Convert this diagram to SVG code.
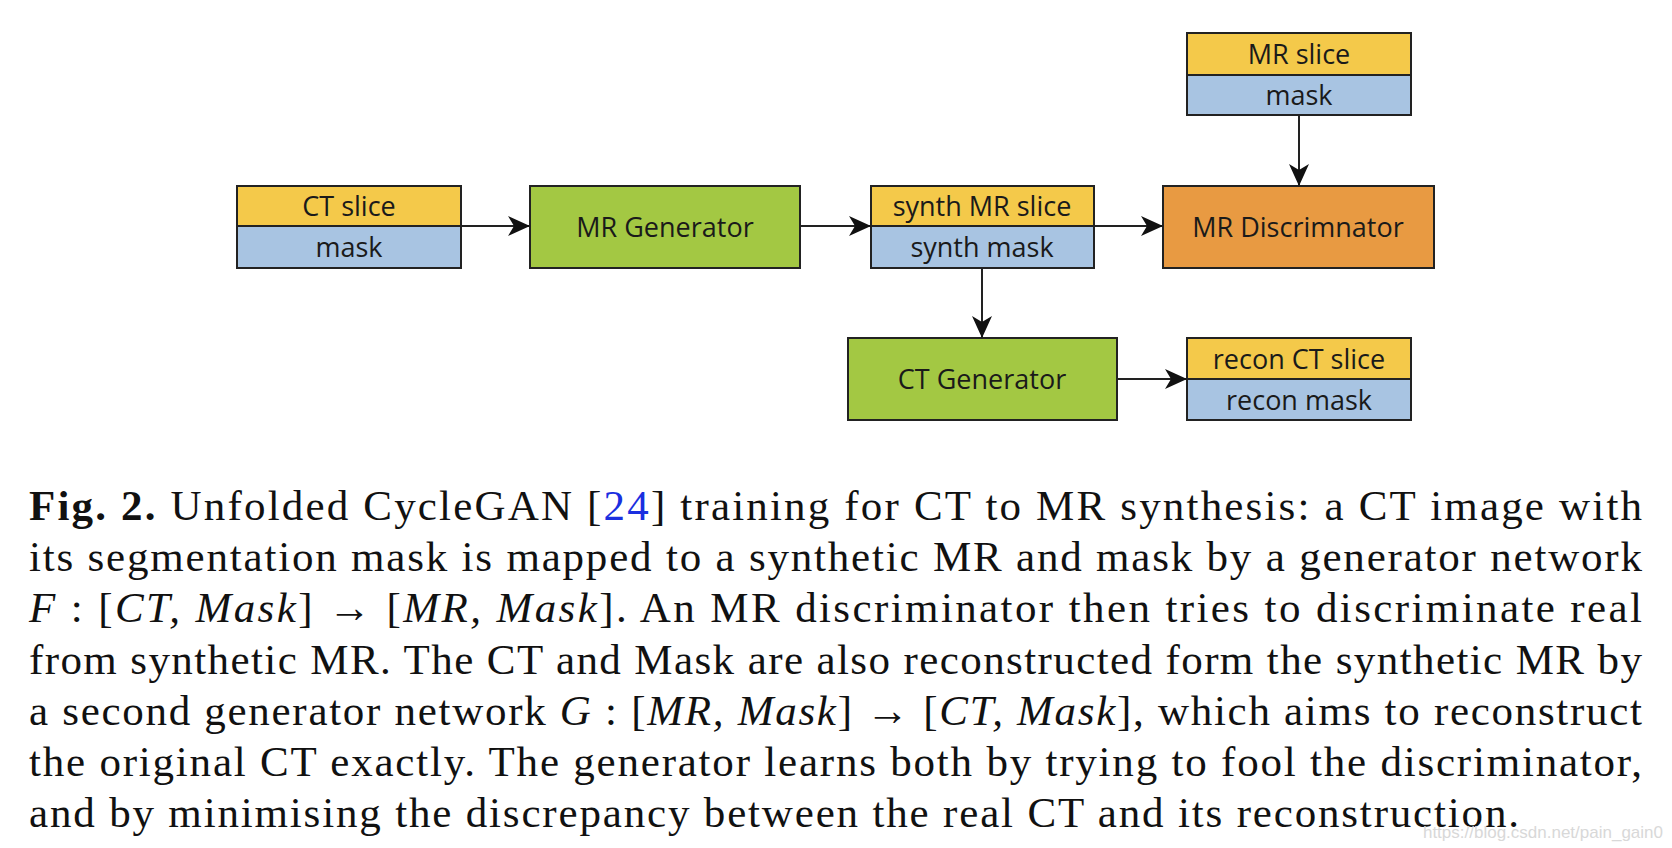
<svg xmlns="http://www.w3.org/2000/svg" width="1672" height="848" viewBox="0 0 1672 848">
<style>
.y{fill:#F4C94A;stroke:#222;stroke-width:2}
.b{fill:#A8C4E2;stroke:#222;stroke-width:2}
.g{fill:#A3C843;stroke:#222;stroke-width:2}
.o{fill:#E89A42;stroke:#222;stroke-width:2}
.t{font-family:"Open Sans","DejaVu Sans",sans-serif;font-size:27px;fill:#1a1a1a;text-anchor:middle}
.c{font-family:"Liberation Serif",serif;font-size:43px;fill:#111}
.e{stroke:#222;stroke-width:2;fill:none;marker-end:url(#a)}
</style>
<defs><marker id="a" viewBox="0 0 22 20" refX="21" refY="10" markerWidth="22" markerHeight="20" markerUnits="userSpaceOnUse" orient="auto"><path d="M0,0 L22,10 L0,20 L6,10 z" fill="#111"/></marker></defs>
<rect width="1672" height="848" fill="#fff"/>
<g id="ct-input"><rect class="y" x="237" y="186" width="224" height="40"/><rect class="b" x="237" y="226" width="224" height="42"/><text class="t" x="349" y="216">CT slice</text><text class="t" x="349" y="257">mask</text></g>
<g id="mr-generator"><rect class="g" x="530" y="186" width="270" height="82"/><text class="t" x="665" y="237">MR Generator</text></g>
<g id="synth"><rect class="y" x="871" y="186" width="223" height="40"/><rect class="b" x="871" y="226" width="223" height="42"/><text class="t" x="982" y="216">synth MR slice</text><text class="t" x="982" y="257">synth mask</text></g>
<g id="mr-discriminator"><rect class="o" x="1163" y="186" width="271" height="82"/><text class="t" x="1298" y="237">MR Discrimnator</text></g>
<g id="mr-input"><rect class="y" x="1187" y="33" width="224" height="42"/><rect class="b" x="1187" y="75" width="224" height="40"/><text class="t" x="1299" y="64">MR slice</text><text class="t" x="1299" y="105">mask</text></g>
<g id="ct-generator"><rect class="g" x="848" y="338" width="269" height="82"/><text class="t" x="982" y="389">CT Generator</text></g>
<g id="recon"><rect class="y" x="1187" y="338" width="224" height="41"/><rect class="b" x="1187" y="379" width="224" height="41"/><text class="t" x="1299" y="369">recon CT slice</text><text class="t" x="1299" y="410">recon mask</text></g>
<g id="connectors">
<path class="e" d="M461,226 H529"/>
<path class="e" d="M800,226 H870"/>
<path class="e" d="M1094,226 H1162"/>
<path class="e" d="M1299,115 V185"/>
<path class="e" d="M982,268 V337"/>
<path class="e" d="M1117,379 H1186"/>
</g>
<g id="caption" class="c">
<text x="29" y="520" textLength="1613" lengthAdjust="spacing"><tspan font-weight="bold">Fig. 2.</tspan> Unfolded CycleGAN [<tspan fill="#1a2fe0">24</tspan>] training for CT to MR synthesis: a CT image with</text>
<text x="29" y="571" textLength="1613" lengthAdjust="spacing">its segmentation mask is mapped to a synthetic MR and mask by a generator network</text>
<text x="29" y="622" textLength="1613" lengthAdjust="spacing"><tspan font-style="italic">F</tspan> : [<tspan font-style="italic">CT, Mask</tspan>] → [<tspan font-style="italic">MR, Mask</tspan>]. An MR discriminator then tries to discriminate real</text>
<text x="29" y="674" textLength="1613" lengthAdjust="spacing">from synthetic MR. The CT and Mask are also reconstructed form the synthetic MR by</text>
<text x="29" y="725" textLength="1613" lengthAdjust="spacing">a second generator network <tspan font-style="italic">G</tspan> : [<tspan font-style="italic">MR, Mask</tspan>] → [<tspan font-style="italic">CT, Mask</tspan>], which aims to reconstruct</text>
<text x="29" y="776" textLength="1613" lengthAdjust="spacing">the original CT exactly. The generator learns both by trying to fool the discriminator,</text>
<text x="29" y="827" textLength="1490" lengthAdjust="spacing">and by minimising the discrepancy between the real CT and its reconstruction.</text>
</g>
<text x="1663" y="838" text-anchor="end" font-family="Liberation Sans,sans-serif" font-size="17" fill="#d8d8d8">https://blog.csdn.net/pain_gain0</text>
</svg>
